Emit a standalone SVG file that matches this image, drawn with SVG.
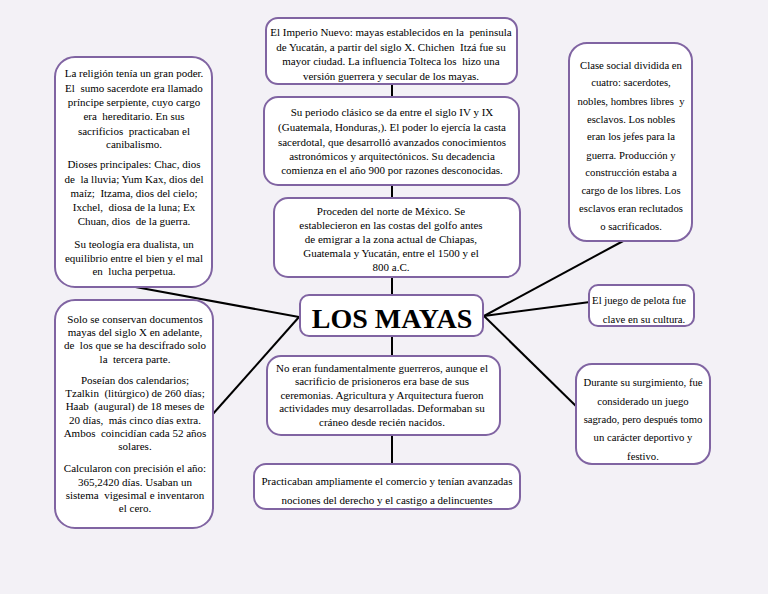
<svg xmlns="http://www.w3.org/2000/svg" width="768" height="594" viewBox="0 0 768 594">
<style>
.box{fill:#ffffff;stroke:#8064a2;stroke-width:2}
.t{font-family:"Liberation Serif","Times New Roman",serif;font-size:11px;fill:#000;text-anchor:middle;white-space:pre}
.r{font-size:10.7px}
.title{font-family:"Liberation Serif","Times New Roman",serif;font-size:28px;font-weight:bold;fill:#000;text-anchor:middle}
.c{stroke:#000;stroke-width:2;fill:none}
</style>
<rect width="768" height="594" fill="#f3f1f6"/>
<g id="connectors">
<line class="c" x1="392" y1="84" x2="392" y2="97"/>
<line class="c" x1="392" y1="185" x2="392" y2="198"/>
<line class="c" x1="392" y1="277" x2="392" y2="295"/>
<line class="c" x1="392" y1="336" x2="392" y2="356"/>
<line class="c" x1="392" y1="435" x2="392" y2="464"/>
<line class="c" x1="130" y1="286" x2="299" y2="317"/>
<line class="c" x1="299" y1="317" x2="212" y2="415"/>
<line class="c" x1="484" y1="316" x2="625" y2="240"/>
<line class="c" x1="484" y1="316" x2="590" y2="302"/>
<line class="c" x1="484" y1="316" x2="580" y2="410"/>
</g>
<g id="n-imperio">
<rect class="box" x="266" y="18" width="251" height="66" rx="12"/>
<text class="t" x="391" y="36">El Imperio Nuevo: mayas establecidos en la  peninsula</text>
<text class="t" x="391" y="51">de Yucatán, a partir del siglo X. Chichen  Itzá fue su</text>
<text class="t" x="391" y="65">mayor ciudad. La influencia Tolteca los  hizo una</text>
<text class="t" x="391" y="80">versión guerrera y secular de los mayas.</text>
</g>
<g id="n-clasico">
<rect class="box" x="264" y="97" width="255" height="88" rx="14"/>
<text class="t" x="392" y="116">Su periodo clásico se da entre el siglo IV y IX</text>
<text class="t" x="392" y="131">(Guatemala, Honduras,). El poder lo ejercía la casta</text>
<text class="t" x="392" y="146">sacerdotal, que desarrolló avanzados conocimientos</text>
<text class="t" x="392" y="160">astronómicos y arquitectónicos. Su decadencia</text>
<text class="t" x="392" y="174">comienza en el año 900 por razones desconocidas.</text>
</g>
<g id="n-proceden">
<rect class="box" x="274" y="198" width="246" height="79" rx="14"/>
<text class="t" x="391" y="215">Proceden del norte de México. Se</text>
<text class="t" x="391" y="229">establecieron en las costas del golfo antes</text>
<text class="t" x="391" y="243">de emigrar a la zona actual de Chiapas,</text>
<text class="t" x="391" y="257">Guatemala y Yucatán, entre el 1500 y el</text>
<text class="t" x="391" y="271">800 a.C.</text>
</g>
<g id="n-religion">
<rect class="box" x="55" y="57" width="157" height="230" rx="20"/>
<text class="t" x="134" y="77">La religión tenía un gran poder.</text>
<text class="t" x="134" y="92">El  sumo sacerdote era llamado</text>
<text class="t" x="134" y="106">príncipe serpiente, cuyo cargo</text>
<text class="t" x="134" y="120">era  hereditario. En sus</text>
<text class="t" x="134" y="135">sacrificios  practicaban el</text>
<text class="t" x="134" y="148">canibalismo.</text>
<text class="t" x="134" y="168">Dioses principales: Chac, dios</text>
<text class="t" x="134" y="183">de  la lluvia; Yum Kax, dios del</text>
<text class="t" x="134" y="197">maíz;  Itzama, dios del cielo;</text>
<text class="t" x="134" y="211">Ixchel,  diosa de la luna; Ex</text>
<text class="t" x="134" y="225">Chuan, dios  de la guerra.</text>
<text class="t" x="134" y="248">Su teología era dualista, un</text>
<text class="t" x="134" y="262">equilibrio entre el bien y el mal</text>
<text class="t" x="134" y="275">en  lucha perpetua.</text>
</g>
<g id="n-documentos">
<rect class="box" x="55" y="300" width="158" height="228" rx="20"/>
<text class="t" x="135" y="323">Solo se conservan documentos</text>
<text class="t" x="135" y="336">mayas del siglo X en adelante,</text>
<text class="t" x="135" y="349">de  los que se ha descifrado solo</text>
<text class="t" x="135" y="363">la  tercera parte.</text>
<text class="t" x="135" y="384">Poseían dos calendarios;</text>
<text class="t" x="135" y="397">Tzalkin  (litúrgico) de 260 días;</text>
<text class="t" x="135" y="410">Haab  (augural) de 18 meses de</text>
<text class="t" x="135" y="424">20 días,  más cinco días extra.</text>
<text class="t" x="135" y="437">Ambos  coincidían cada 52 años</text>
<text class="t" x="135" y="450">solares.</text>
<text class="t" x="135" y="472">Calcularon con precisión el año:</text>
<text class="t" x="135" y="486">365,2420 días. Usaban un</text>
<text class="t" x="135" y="499">sistema  vigesimal e inventaron</text>
<text class="t" x="135" y="512">el cero.</text>
</g>
<g id="n-clase">
<rect class="box" x="569" y="43" width="123" height="198" rx="18"/>
<text class="t r" x="631" y="69">Clase social dividida en</text>
<text class="t r" x="631" y="86">cuatro: sacerdotes,</text>
<text class="t r" x="631" y="105">nobles, hombres libres  y</text>
<text class="t r" x="631" y="123">esclavos. Los nobles</text>
<text class="t r" x="631" y="140">eran los jefes para la</text>
<text class="t r" x="631" y="159">guerra. Producción y</text>
<text class="t r" x="631" y="176">construcción estaba a</text>
<text class="t r" x="631" y="194">cargo de los libres. Los</text>
<text class="t r" x="631" y="212">esclavos eran reclutados</text>
<text class="t r" x="631" y="230">o sacrificados.</text>
</g>
<g id="n-center">
<rect class="box" x="300" y="295" width="183" height="41" rx="9"/>
<text class="title" x="392" y="328">LOS MAYAS</text>
</g>
<g id="n-guerreros">
<rect class="box" x="267" y="356" width="233" height="79" rx="14"/>
<text class="t" x="382" y="372">No eran fundamentalmente guerreros, aunque el</text>
<text class="t" x="382" y="385">sacrificio de prisioneros era base de sus</text>
<text class="t" x="382" y="399">ceremonias. Agricultura y Arquitectura fueron</text>
<text class="t" x="382" y="412">actividades muy desarrolladas. Deformaban su</text>
<text class="t" x="382" y="426">cráneo desde recién nacidos.</text>
</g>
<g id="n-comercio">
<rect class="box" x="254" y="464" width="266" height="45" rx="12"/>
<text class="t" x="387" y="485">Practicaban ampliamente el comercio y tenían avanzadas</text>
<text class="t" x="387" y="504">nociones del derecho y el castigo a delincuentes</text>
</g>
<g id="n-pelota">
<rect class="box" x="589" y="285" width="105" height="41" rx="9"/>
<text class="t r" x="639" y="304">El juego de pelota fue</text>
<text class="t r" x="644" y="323">clave en su cultura.</text>
</g>
<g id="n-sagrado">
<rect class="box" x="576" y="364" width="134" height="100" rx="16"/>
<text class="t r" x="643" y="386">Durante su surgimiento, fue</text>
<text class="t r" x="643" y="405">considerado un juego</text>
<text class="t r" x="643" y="423">sagrado, pero después tomo</text>
<text class="t r" x="643" y="441">un carácter deportivo y</text>
<text class="t r" x="643" y="460">festivo.</text>
</g>
</svg>
